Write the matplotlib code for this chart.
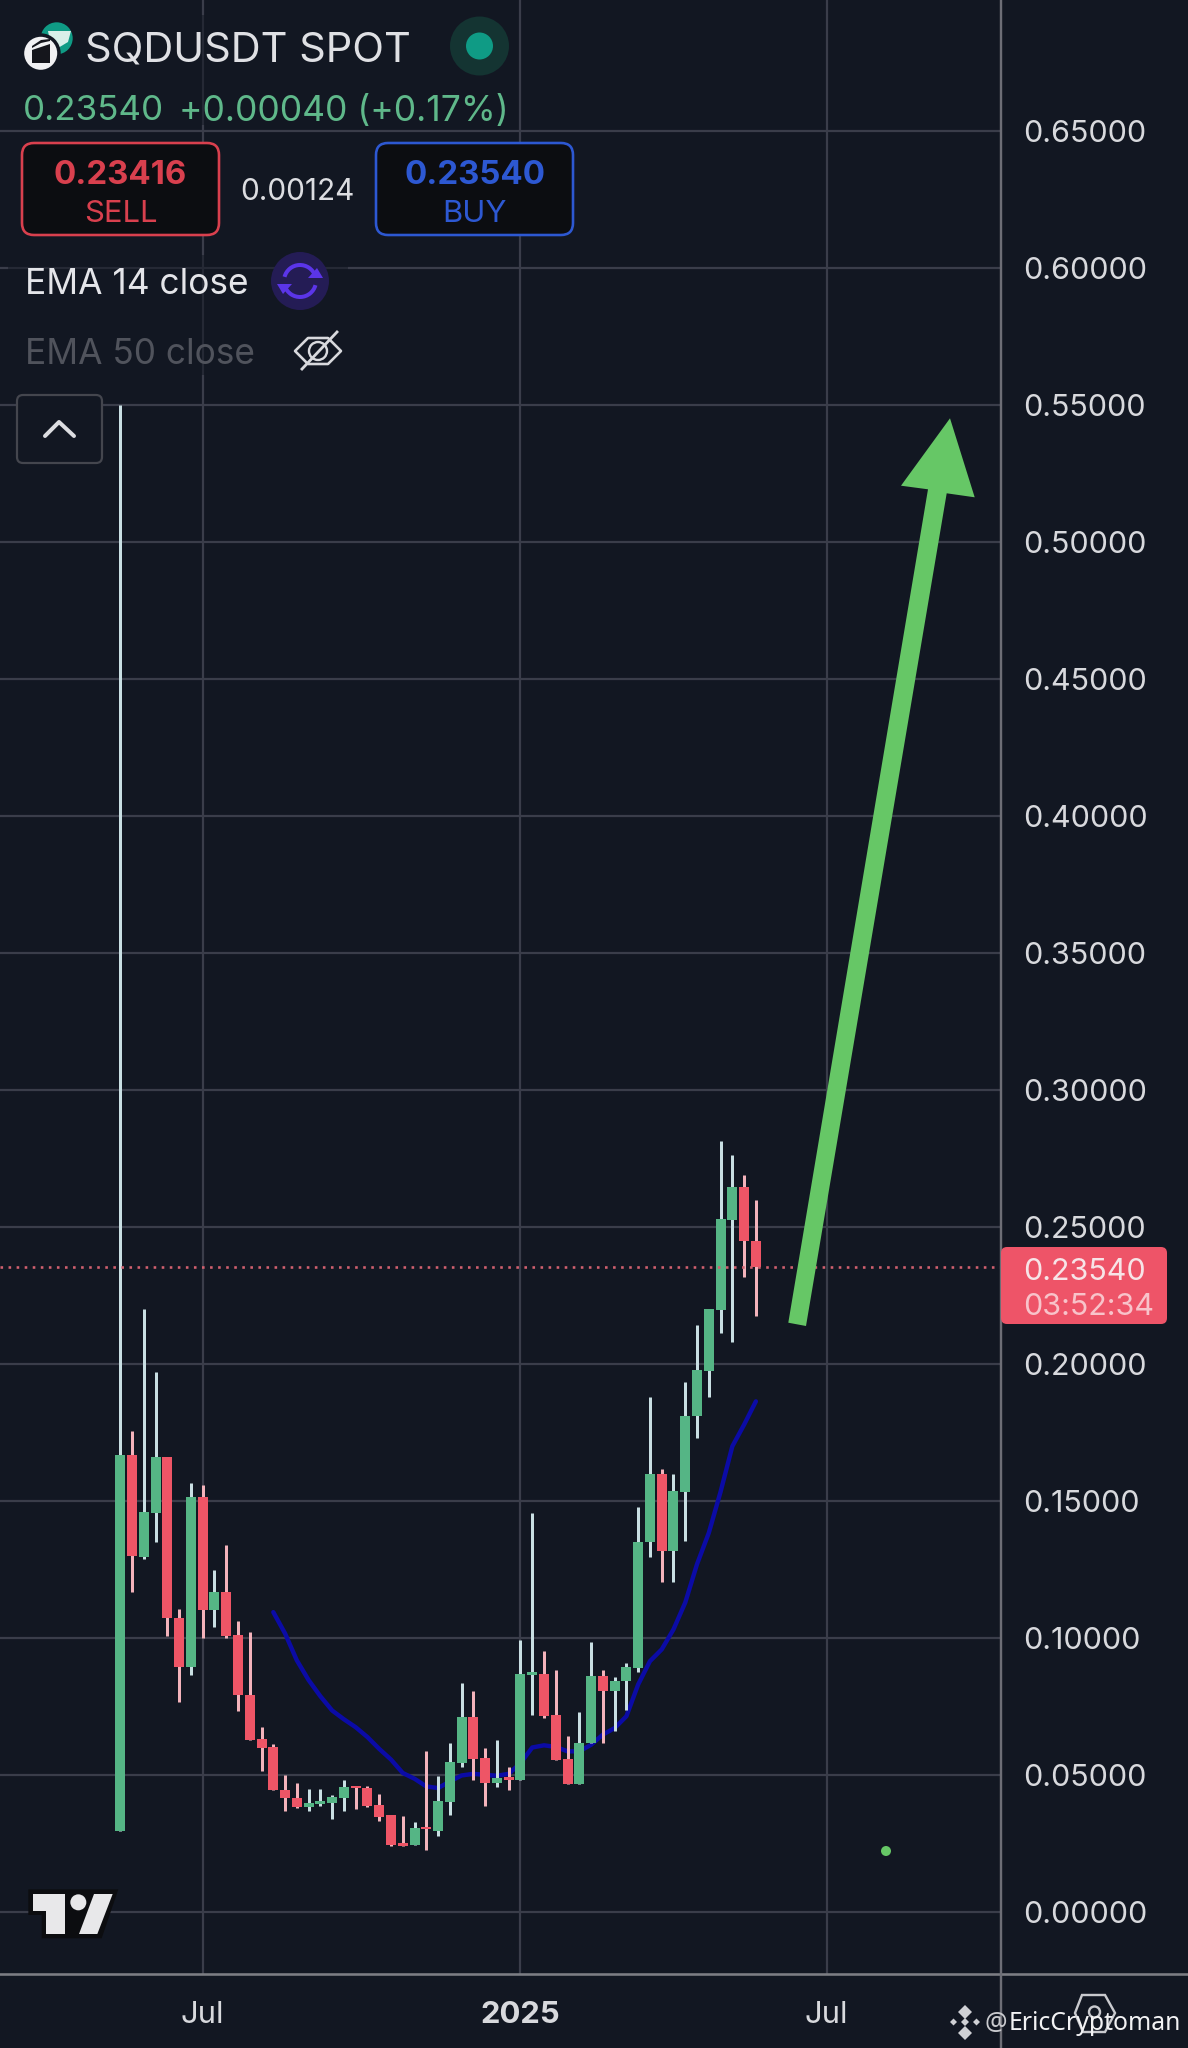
import matplotlib
matplotlib.use('Agg')
import matplotlib.pyplot as plt
from matplotlib.patches import Circle, FancyBboxPatch, Polygon, Rectangle, Arc, RegularPolygon

# weekly candles
opens = [.0298, .1669, .1298, .1457, .1662, .1076, .0894, .1516, .1102, .1170, .1014,
         .0792, .0633, .0603, .0448, .0419, .0384, .0397, .0401, .0417, .0461, .0453,
         .0392, .0354, .0252, .0248, .0312, .0299, .0402, .0545, .0715, .0563, .0471,
         .0494, .0483, .0868, .0872, .0721, .0560, .0468, .0617, .0862, .0807, .0843,
         .0891, .1350, .1601, .1318, .1535, .1813, .1974, .2198, .2527, .2647, .2450]
highs = [.5500, .1758, .2201, .1972, .1662, .1108, .1568, .1561, .1250, .1341, .1062,
         .1023, .0675, .0615, .0503, .0474, .0450, .0450, .0430, .0482, .0461, .0462,
         .0431, .0354, .0352, .0329, .0590, .0499, .0620, .0838, .0807, .0600, .0629,
         .0532, .0996, .1457, .0955, .0883, .0645, .0732, .0988, .0883, .0859, .0909,
         .1478, .1881, .1619, .1601, .1936, .2145, .2202, .2814, .2763, .2692, .2599]
lows = [.0298, .1171, .1290, .1353, .1010, .0767, .0865, .1002, .1041, .1002, .0737,
        .0629, .0518, .0447, .0370, .0380, .0372, .0388, .0341, .0372, .0377, .0385,
        .0333, .0241, .0244, .0248, .0228, .0280, .0356, .0530, .0482, .0388, .0459,
        .0448, .0483, .0721, .0709, .0557, .0468, .0468, .0617, .0618, .0663, .0738,
        .0877, .1298, .1206, .1206, .1354, .1731, .1881, .2113, .2082, .2320, .2178]
closes = [.1669, .1301, .1460, .1662, .1074, .0894, .1516, .1102, .1170, .1008, .0792,
          .0629, .0600, .0447, .0417, .0385, .0401, .0406, .0420, .0458, .0453, .0390,
          .0350, .0246, .0244, .0310, .0304, .0406, .0550, .0715, .0560, .0471, .0490,
          .0485, .0870, .0876, .0716, .0557, .0468, .0618, .0862, .0807, .0846, .0896,
          .1352, .1601, .1318, .1539, .1813, .1978, .2202, .2530, .2647, .2449, .2354]

ema_start = 13
ema14 = [.1096, .1018, .0920, .0848, .0789, .0737, .0705, .0676, .0640, .0597, .0558,
         .0509, .0488, .0460, .0454, .0478, .0500, .0506, .0502, .0499, .0506, .0545,
         .0602, .0610, .0604, .0588, .0588, .0612, .0649, .0673, .0716, .0832, .0917,
         .0960, .1033, .1131, .1271, .1385, .1535, .1701, .1780, .1865]

last_price = 0.2354
price_ticks = [0.00, 0.05, 0.10, 0.15, 0.20, 0.25, 0.30, 0.35, 0.40, 0.45, 0.50, 0.55, 0.60, 0.65]
date_ticks = [7, 34, 60]
date_labels = ['Jul', '2025', 'Jul']

BG = '#121722'
GRID = '#3a3d4a'
UP = '#55b585'
DOWN = '#ee5566'
UP_WICK = '#c9dfe3'
DOWN_WICK = '#f3b3bb'
ARROW = '#66c766'
FONT = 'Inter'


def px(size):
    # font size / line width given in pixels -> points at dpi 100
    return size * 0.72


plt.rcParams['font.family'] = [FONT, 'DejaVu Sans']

fig = plt.figure(figsize=(11.88, 20.48), dpi=100, facecolor=BG)
ax = fig.add_axes([0, (2048 - 1973.7) / 2048, 1000.7 / 1188, 1973.7 / 2048], facecolor=BG)
ax.set_xlim(-10.22, 74.8)
ax.set_ylim(-0.02233, 0.6978)
for s in ax.spines.values():
    s.set_visible(False)

ax.yaxis.tick_right()
ax.set_yticks(price_ticks)
ax.set_yticklabels(['%.5f' % p for p in price_ticks])
ax.set_xticks(date_ticks)
ax.set_xticklabels(date_labels)
ax.tick_params(axis='y', length=0, pad=px(22), labelsize=px(30.5), labelcolor='#d8d9dd')
ax.tick_params(axis='x', length=0, pad=px(27), labelsize=px(31), labelcolor='#d8d9dd')
ax.get_xticklabels()[1].set_fontweight('bold')
ax.grid(True, color=GRID, linewidth=px(2.2), zorder=0)
ax.set_axisbelow(True)

# ema sits behind the candles
ema_x = list(range(ema_start, ema_start + len(ema14)))
ax.plot(ema_x, ema14, color='#0b0ba6', linewidth=px(4.4), zorder=2, solid_capstyle='round')

# candles
for i in range(len(opens)):
    up = closes[i] >= opens[i]
    ax.vlines(i, lows[i], highs[i], color=UP_WICK if up else DOWN_WICK, linewidth=px(3), zorder=3)
    ax.bar(i, abs(closes[i] - opens[i]), bottom=min(opens[i], closes[i]), width=0.85,
           color=UP if up else DOWN, linewidth=0, zorder=4)

ax.axhline(last_price, color='#d0606f', linewidth=px(2.6), linestyle=(0, (1, 2.1)), zorder=5)

# overlay in pixel coords for the app chrome
ov = fig.add_axes([0, 0, 1, 1], facecolor='none')
ov.set_xlim(0, 1188)
ov.set_ylim(2048, 0)
ov.axis('off')

# axis lines
ov.plot([0, 1188], [1973.7, 1973.7], color='#7c7d83', linewidth=px(2.6), zorder=1)
ov.plot([1000.7, 1000.7], [0, 2048], color='#6d6e76', linewidth=px(2.4), zorder=1)

# the legend dims the grid behind it
ov.add_patch(Rectangle((8, 15), 505, 110, facecolor=BG, alpha=0.5, edgecolor='none', zorder=2))
ov.add_patch(Rectangle((8, 255), 340, 120, facecolor=BG, alpha=0.5, edgecolor='none', zorder=2))

# hand drawn arrow and dot
ov.add_patch(Polygon([(788.3, 1322.7), (928, 489.3), (901, 485.7), (950, 418.3), (974.7, 497.3),
                      (946.7, 493.3), (806, 1326)], closed=True, facecolor=ARROW, edgecolor='none', zorder=6))
ov.add_patch(Circle((886, 1851), 5, facecolor=ARROW, edgecolor='none', zorder=6))

# last price tag
ov.add_patch(FancyBboxPatch((1004, 1250), 160, 71, boxstyle='round,pad=3,rounding_size=6',
                            facecolor='#ee5468', edgecolor='none', zorder=7))
ov.text(1023, 1272, '0.23540', color='#f7e4e7', fontsize=px(30.5), va='center', ha='left', zorder=8)
ov.text(1023, 1307, '03:52:34', color='#f8c3ca', fontsize=px(30.5), va='center', ha='left', zorder=8)

# symbol header
ov.add_patch(Circle((56.7, 38.3), 16, facecolor='#0f9b85', edgecolor='none', zorder=7))
ov.add_patch(Polygon([(48, 31), (71, 31), (68, 42), (58, 48), (50, 41)], closed=True,
                     facecolor='#d8efe9', edgecolor='none', zorder=7))
ov.add_patch(Circle((40.7, 53.3), 20, facecolor=BG, edgecolor='none', zorder=8))
ov.add_patch(Circle((40.7, 53.3), 16.5, facecolor='#f1f1f3', edgecolor='none', zorder=9))
ov.add_patch(Polygon([(32, 50), (50, 44), (50, 63), (32, 63)], closed=True, facecolor='#15161c',
                     edgecolor='none', zorder=10))
ov.add_patch(Polygon([(32, 46), (41, 40), (50, 39), (50, 41), (41, 43), (32, 48)], closed=True,
                     facecolor='#15161c', edgecolor='none', zorder=10))
ov.text(85, 50, 'SQDUSDT SPOT', color='#dfe0e4', fontsize=px(41.5), va='center', ha='left', zorder=8)
ov.add_patch(Circle((479.5, 46), 29.5, facecolor='#143432', edgecolor='none', zorder=7))
ov.add_patch(Circle((479.5, 46), 13.5, facecolor='#0f9b85', edgecolor='none', zorder=8))
ov.text(23, 111, '0.23540', color='#5fb88a', fontsize=px(35), va='center', ha='left', zorder=8)
ov.text(179, 111, '+0.00040 (+0.17%)', color='#5fb88a', fontsize=px(35.5), va='center', ha='left', zorder=8)

# sell / buy boxes
for x0, edge, price, label in [(22, '#d9404e', '0.23416', 'SELL'), (376, '#2d58d2', '0.23540', 'BUY')]:
    ov.add_patch(FancyBboxPatch((x0 + 12, 155), 173, 68, boxstyle='round,pad=12,rounding_size=12',
                                facecolor='#0c0d11', edgecolor=edge, linewidth=px(2.6), zorder=7))
    ov.text(x0 + 98.5, 175, price, color=edge, fontsize=px(33), fontweight='bold', va='center', ha='center', zorder=8)
    ov.text(x0 + 98.5, 214, label, color=edge, fontsize=px(31), va='center', ha='center', zorder=8)
ov.text(297, 192, '0.00124', color='#dcdde1', fontsize=px(29.8), va='center', ha='center', zorder=8)

# indicator rows
ov.text(25, 285, 'EMA 14 close', color='#e4e5e9', fontsize=px(35.3), va='center', ha='left', zorder=8)
ov.text(25, 355, 'EMA 50 close', color='#50535c', fontsize=px(35.3), va='center', ha='left', zorder=8)
ov.add_patch(Circle((300, 281), 29, facecolor='#241c55', edgecolor='none', zorder=7))
ov.add_patch(Arc((300, 281), 32, 32, theta1=195, theta2=340, color='#5b35e8', linewidth=px(4), zorder=8))
ov.add_patch(Arc((300, 281), 32, 32, theta1=15, theta2=160, color='#5b35e8', linewidth=px(4), zorder=8))
ov.add_patch(Polygon([(308, 278), (323, 278), (317, 268)], closed=True, facecolor='#5b35e8', zorder=8))
ov.add_patch(Polygon([(277, 284), (292, 284), (283, 294)], closed=True, facecolor='#5b35e8', zorder=8))
# eye with slash
ov.add_patch(Polygon([(295, 351), (308, 338), (328, 338), (341, 351), (328, 364), (308, 364)], closed=True,
                     facecolor='none', edgecolor='#d8d9dd', linewidth=px(2.6), joinstyle='round', zorder=8))
ov.add_patch(Circle((318, 351), 9, facecolor='none', edgecolor='#d8d9dd', linewidth=px(2.4), zorder=8))
ov.plot([302, 337], [369, 332], color='#d8d9dd', linewidth=px(2.8), zorder=9)

# collapse button
ov.add_patch(FancyBboxPatch((23, 401), 73, 56, boxstyle='round,pad=6,rounding_size=6',
                            facecolor=BG, edgecolor='#44464e', linewidth=px(2.2), zorder=7))
ov.plot([45, 59, 74], [436, 422, 436], color='#dcdde1', linewidth=px(4), zorder=8,
        solid_capstyle='round', solid_joinstyle='round')

# tradingview logo, shapes measured in a 3x crop
lx, ly = 10, 1870
logo_bg = [(55, 58), (325, 58), (275, 205), (95, 205), (95, 135), (55, 135)]
logo_t = [(68, 72), (165, 72), (165, 192), (108, 192), (108, 122), (68, 122)]
logo_p = [(252, 72), (308, 72), (262, 192), (207, 192)]
for shape, col, z in [(logo_bg, '#0c0d10', 7), (logo_t, '#e8e8ea', 8), (logo_p, '#e8e8ea', 8)]:
    ov.add_patch(Polygon([(lx + a / 3, ly + b / 3) for a, b in shape], closed=True, facecolor=col,
                         edgecolor='none', zorder=z))
ov.add_patch(Circle((lx + 205 / 3, ly + 97 / 3), 8, facecolor='#e8e8ea', zorder=8))

# settings hexagon behind the watermark
ov.add_patch(Polygon([(1082, 1995), (1105, 1995), (1115, 2013), (1105, 2032), (1083, 2032), (1075, 2013)],
                     closed=True, facecolor='none', edgecolor='#c9cace', linewidth=px(2.4), zorder=7))
ov.add_patch(Circle((1094.5, 2012), 5.5, facecolor='none', edgecolor='#c9cace', linewidth=px(2.4), zorder=7))

# watermark
for cx, cy, r in [(965, 2012, 7), (965, 2033, 7), (953.5, 2022, 3.5), (976.5, 2022, 3.5), (965, 2022, 4)]:
    ov.add_patch(RegularPolygon((cx, cy), 4, radius=r, facecolor='#cfd0d4', edgecolor='none', zorder=8))
ov.text(984, 2024, '@', color='#c9cace', fontsize=px(25), va='center', ha='left', family='Noto Sans', zorder=8)
ov.text(1009, 2024, 'EricCryptoman', color='#f2f2f4', fontsize=px(24.8), va='center', ha='left',
        family='Noto Sans', zorder=9)

fig.savefig('out.png', dpi=100, facecolor=BG)
